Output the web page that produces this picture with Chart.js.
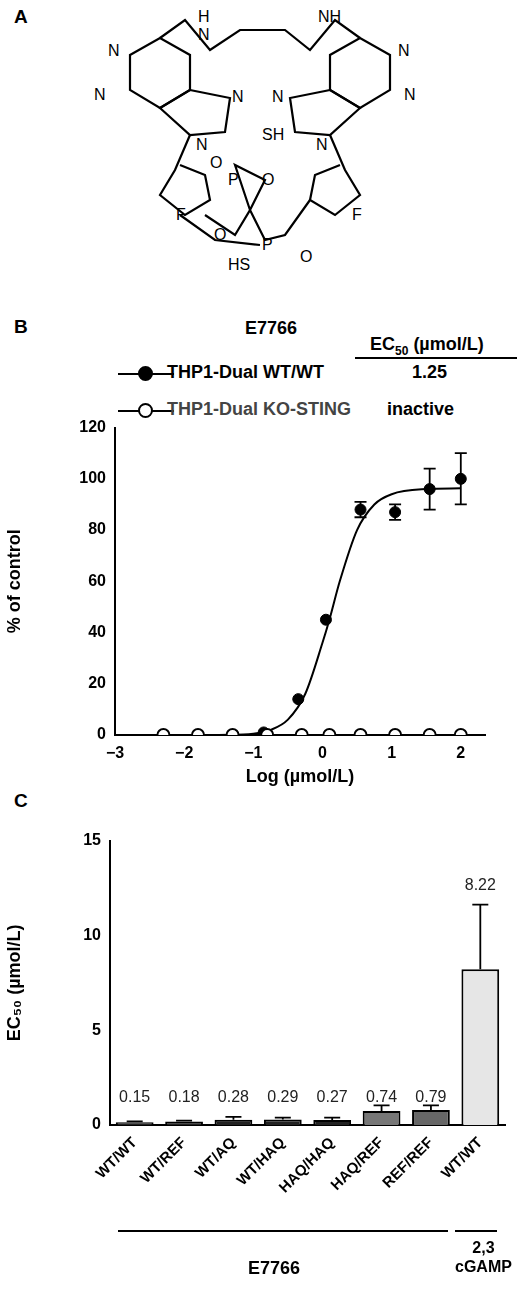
<!doctype html>
<html lang="en">
<head>
<meta charset="utf-8">
<script src="https://cdn.jsdelivr.net/npm/chart.js"></script>
<style>
  body { margin: 0; width: 520px; height: 1293px; position: relative; background: #fff;
         font-family: "Liberation Sans", Arial, sans-serif; color: #000; overflow: hidden; }
  .t { position: absolute; font-weight: bold; white-space: nowrap; }
  .box { position: absolute; }
  .mk { display: inline-block; width: 11px; height: 11px; border-radius: 50%; border: 2px solid #000;
        vertical-align: middle; margin: 0 14px 0 0; position: relative; }
  .mk::before { content: ""; position: absolute; left: -22px; top: 5px; width: 56px; height: 2px; background: #000; z-index: -1; }
</style>
</head>
<body>

<!-- panel A: simplified structure sketch -->
<div class="t" style="left:14px;top:6px;font-size:19px">A</div>
<svg class="box" style="left:0;top:0" width="520" height="305" viewBox="0 0 520 305"
     font-family="Liberation Sans, Arial" font-size="17" stroke="#000" stroke-width="2.2" fill="none">
  <polygon points="130,55 160,38 190,55 190,90 160,108 130,90"/>
  <polygon points="190,90 230,98 225,132 190,135 160,108"/>
  <polygon points="390,55 360,38 330,55 330,90 360,108 390,90"/>
  <polygon points="330,90 290,98 295,132 330,135 360,108"/>
  <polyline points="160,38 185,20 210,50 240,30 285,30 310,50 335,20 360,38"/>
  <polyline points="190,135 175,170 160,195 185,215 210,200 205,175 180,165"/>
  <polyline points="330,135 345,170 360,195 335,215 310,200 315,175 340,165"/>
  <polyline points="205,215 235,235 250,210 235,165 265,180 250,210 265,240 285,235 310,200"/>
  <polyline points="180,215 215,240 260,245"/>
  <g fill="#000" stroke="none" font-size="16">
    <text x="198" y="22">H</text><text x="198" y="40">N</text>
    <text x="318" y="22">NH</text>
    <text x="108" y="56">N</text><text x="94" y="100">N</text>
    <text x="232" y="102">N</text><text x="196" y="150">N</text>
    <text x="398" y="56">N</text><text x="404" y="100">N</text>
    <text x="272" y="102">N</text><text x="316" y="150">N</text>
    <text x="262" y="140">SH</text><text x="228" y="185">P</text>
    <text x="262" y="185">O</text><text x="210" y="168">O</text>
    <text x="176" y="220">F</text><text x="352" y="220">F</text>
    <text x="262" y="250">P</text><text x="300" y="262">O</text>
    <text x="228" y="270">HS</text><text x="214" y="240">O</text>
  </g>
</svg>

<!-- panel B -->
<div class="t" style="left:14px;top:316px;font-size:19px">B</div>
<div class="t" style="left:245px;top:318px;font-size:18px">E7766</div>
<div class="t" style="left:370px;top:334px;font-size:18px">EC<sub style="font-size:12px">50</sub> (&micro;mol/L)</div>
<div class="box" style="left:355px;top:357px;width:162px;height:2px;background:#000"></div>
<div class="t" style="left:138px;top:362px;font-size:18px"><span class="mk" style="background:#000"></span>THP1-Dual WT/WT</div>
<div class="t" style="left:412px;top:362px;font-size:18px">1.25</div>
<div class="t" style="left:138px;top:399px;font-size:18px;color:#444"><span class="mk" style="background:#fff"></span>THP1-Dual KO-STING</div>
<div class="t" style="left:387px;top:399px;font-size:18px">inactive</div>

<div class="box" style="left:0;top:415px;width:520px;height:375px"><canvas id="chartB"></canvas></div>

<!-- panel C -->
<div class="t" style="left:14px;top:790px;font-size:19px">C</div>
<div class="box" style="left:0;top:828px;width:520px;height:462px"><canvas id="chartC"></canvas></div>
<div class="box" style="left:118px;top:1230px;width:330px;height:2px;background:#000"></div>
<div class="box" style="left:455px;top:1230px;width:42px;height:2px;background:#000"></div>
<div class="t" style="left:248px;top:1258px;font-size:18px">E7766</div>
<div class="t" style="left:455px;top:1238px;font-size:16px;text-align:center;line-height:19px">2,3<br>cGAMP</div>

<script>
// ---- panel B data ----
const wtX = [-0.85, -0.35, 0.05, 0.55, 1.05, 1.55, 2.0];
const wtY = [1, 14, 45, 88, 87, 96, 100];
const wtErr = [0, 0, 0, 3, 3, 8, 10];
const koX = [-2.3, -1.8, -1.3, -0.8, -0.3, 0.1, 0.55, 1.05, 1.55, 2.0];
const koY = [0, 0, 0, 0, 0, 0, 0, 0, 0, 0];
const fitX = [-1.5, -1.0, -0.75, -0.5, -0.25, 0, 0.1, 0.25, 0.5, 0.75, 1.0, 1.5, 2.0];
const fitY = [0, 0.5, 2, 6, 16, 36, 45, 60, 80, 90, 94, 96, 96.3];

// ---- panel C data ----
const cats = ["WT/WT", "WT/REF", "WT/AQ", "WT/HAQ", "HAQ/HAQ", "HAQ/REF", "REF/REF", "WT/WT"];
const ec50 = [0.15, 0.18, 0.28, 0.29, 0.27, 0.74, 0.79, 8.22];
const ec50Err = [0.04, 0.05, 0.15, 0.1, 0.12, 0.3, 0.25, 3.4];
const barFill = ["#222", "#222", "#222", "#222", "#222", "#777", "#666", "#e6e6e6"];

const font = { family: "Liberation Sans, Arial, sans-serif", size: 16, weight: "bold" };
Chart.defaults.color = "#000";

function errorBars(dsIndex, errs, cap, upOnly) {
  return {
    id: "err" + dsIndex,
    afterDatasetsDraw(chart) {
      const ctx = chart.ctx, meta = chart.getDatasetMeta(dsIndex), ys = chart.scales.y;
      ctx.save(); ctx.strokeStyle = "#000"; ctx.lineWidth = 1.8;
      meta.data.forEach((el, i) => {
        const e = errs[i]; if (!e) return;
        const v = chart.data.datasets[dsIndex].data[i];
        const val = typeof v === "object" ? v.y : v;
        const top = ys.getPixelForValue(val + e);
        const bot = upOnly ? ys.getPixelForValue(val) : ys.getPixelForValue(val - e);
        ctx.beginPath(); ctx.moveTo(el.x, top); ctx.lineTo(el.x, bot);
        ctx.moveTo(el.x - cap, top); ctx.lineTo(el.x + cap, top);
        if (!upOnly) { ctx.moveTo(el.x - cap, bot); ctx.lineTo(el.x + cap, bot); }
        ctx.stroke();
      });
      ctx.restore();
    }
  };
}

new Chart(document.getElementById("chartB"), {
  type: "scatter",
  data: {
    datasets: [
      { data: wtX.map((x, i) => ({ x, y: wtY[i] })), backgroundColor: "#000", borderColor: "#000", pointRadius: 5.5, order: 1 },
      { data: koX.map((x, i) => ({ x, y: koY[i] })), backgroundColor: "#fff", borderColor: "#000", borderWidth: 2, pointRadius: 6, order: 0 },
      { type: "line", data: fitX.map((x, i) => ({ x, y: fitY[i] })), borderColor: "#000", borderWidth: 2, pointRadius: 0, cubicInterpolationMode: "monotone", order: 2 }
    ]
  },
  options: {
    animation: false, responsive: true, maintainAspectRatio: false,
    layout: { padding: { top: 10, right: 35 } },
    plugins: { legend: { display: false }, tooltip: { enabled: false } },
    scales: {
      x: { min: -3, max: 2.35,
        afterBuildTicks: s => { s.ticks = [-3, -2, -1, 0, 1, 2].map(v => ({ value: v })); },
        afterFit: s => { s.height = 55; },
        grid: { display: false, tickLength: 6, tickColor: "#000" },
        border: { color: "#000", width: 2 },
        ticks: { font, callback: v => v < 0 ? "\u2212" + (-v) : v },
        title: { display: true, text: "Log (\u00b5mol/L)", font: { ...font, size: 18 }, padding: 2 } },
      y: { min: 0, max: 120,
        ticks: { stepSize: 20, font },
        afterFit: s => { s.width = 115; },
        grid: { display: false, tickLength: 6, tickColor: "#000" },
        border: { color: "#000", width: 2 },
        title: { display: true, text: "% of control", font: { ...font, size: 18 } } }
    }
  },
  plugins: [errorBars(0, wtErr, 6, false)]
});

const valueLabels = {
  id: "vals",
  afterDatasetsDraw(chart) {
    const ctx = chart.ctx, meta = chart.getDatasetMeta(0), ys = chart.scales.y;
    ctx.save(); ctx.font = "16px Liberation Sans, Arial"; ctx.fillStyle = "#222"; ctx.textAlign = "center";
    meta.data.forEach((el, i) => {
      const y = i < 7 ? ys.getPixelForValue(1.2) : ys.getPixelForValue(ec50[i] + ec50Err[i] + 0.8);
      ctx.fillText(ec50[i].toFixed(2), el.x, y);
    });
    ctx.restore();
  }
};

new Chart(document.getElementById("chartC"), {
  type: "bar",
  data: { labels: cats, datasets: [{ data: ec50, backgroundColor: barFill, borderColor: "#000", borderWidth: 2, barPercentage: 0.85, categoryPercentage: 0.9 }] },
  options: {
    animation: false, responsive: true, maintainAspectRatio: false,
    layout: { padding: { top: 9, right: 15 } },
    plugins: { legend: { display: false }, tooltip: { enabled: false } },
    scales: {
      x: { afterFit: s => { s.height = 165; },
        grid: { display: false, tickLength: 6, tickColor: "#000" },
        border: { color: "#000", width: 2 },
        ticks: { font: { ...font, size: 15 }, minRotation: 45, maxRotation: 45 } },
      y: { min: 0, max: 15,
        ticks: { stepSize: 5, font },
        afterFit: s => { s.width = 110; },
        grid: { display: false, tickLength: 6, tickColor: "#000" },
        border: { color: "#000", width: 2 },
        title: { display: true, text: "EC\u2085\u2080 (\u00b5mol/L)", font: { ...font, size: 18 } } }
    }
  },
  plugins: [errorBars(0, ec50Err, 8, true), valueLabels]
});
</script>
</body>
</html>
